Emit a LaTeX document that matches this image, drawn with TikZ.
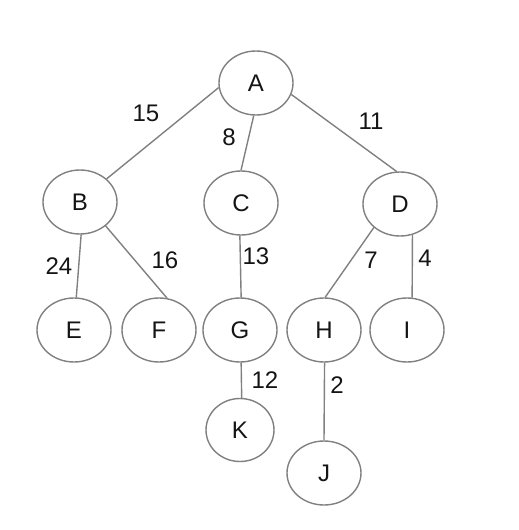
\documentclass[tikz,border=0pt]{standalone}
\usepackage{fontspec}
\setmainfont{Liberation Sans}
\usetikzlibrary{shapes.geometric}
\definecolor{linegray}{RGB}{128,128,128}
\definecolor{txt}{RGB}{20,20,20}
\tikzset{
  vert/.style={ellipse, draw=linegray, line width=1.4pt, minimum width=74pt, minimum height=64pt, inner sep=0pt, text=txt, font=\fontsize{24}{26}\selectfont},
  edge/.style={draw=linegray, line width=1.4pt},
  wlabel/.style={text=txt, inner sep=0pt, font=\fontsize{24}{26}\selectfont}
}
\begin{document}
\begin{tikzpicture}[x=1pt,y=-1pt]
\useasboundingbox (0,0) rectangle (519,530);
\node[vert] (A) at (256,83) {A};
\node[vert] (B) at (80,202) {B};
\node[vert] (C) at (241,203) {C};
\node[vert] (D) at (400,204) {D};
\node[vert] (E) at (74,330) {E};
\node[vert] (F) at (159,330) {F};
\node[vert] (G) at (240,330) {G};
\node[vert] (H) at (324,330) {H};
\node[vert] (I) at (407,330) {I};
\node[vert, minimum width=68pt, minimum height=63pt] (K) at (240,430) {K};
\node[vert] (J) at (324,473) {J};
\draw[edge] (A.187) -- (B.41);
\draw[edge] (A.266) -- (C.90);
\draw[edge] (A.342) -- (D.96);
\draw[edge] (B.272) -- (E.86);
\draw[edge] (B.317) -- (F.76);
\draw[edge] (C.268) -- (G.88);
\draw[edge] (D.222) -- (H.88);
\draw[edge] (D.292) -- (I.81);
\draw[edge] (G.272) -- (K.87);
\draw[edge] (H.271) -- (J.90);
\node[wlabel] (l15) at (146,113) {15};
\node[wlabel] (l8) at (229,137) {8};
\node[wlabel] (l11) at (371,121) {11};
\node[wlabel] (l24) at (59,266) {24};
\node[wlabel] (l16) at (165,260) {16};
\node[wlabel] (l13) at (256,256) {13};
\node[wlabel] (l7) at (371,260) {7};
\node[wlabel] (l4) at (425,258) {4};
\node[wlabel] (l12) at (265,380) {12};
\node[wlabel] (l2) at (337,385) {2};
\end{tikzpicture}
\end{document}
